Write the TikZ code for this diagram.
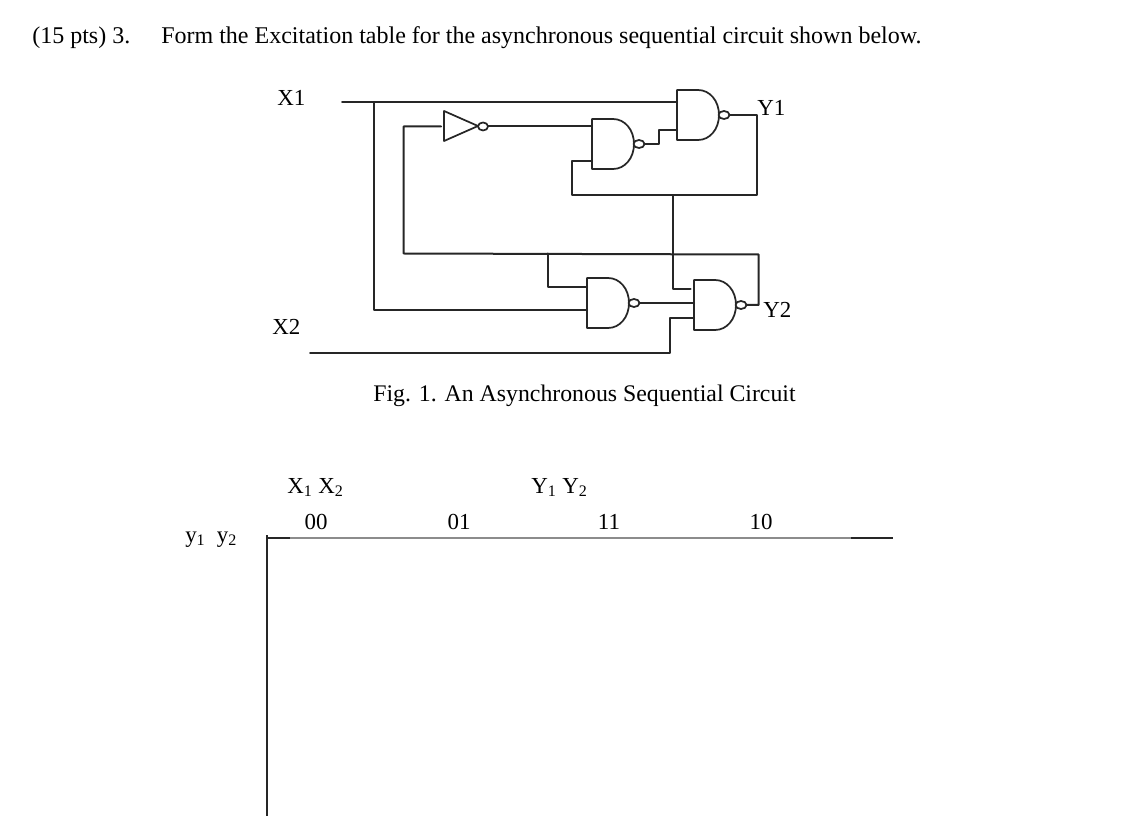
\documentclass[tikz,border=0pt]{standalone}
\usepackage{fontspec}
\setmainfont{Liberation Serif}
\usepackage{xcolor}
\definecolor{ink}{HTML}{262626}
\definecolor{rulegray}{HTML}{8C8C8C}
\tikzset{
  wire/.style={draw=ink, line width=1.5pt, line cap=round, line join=round},
  gateline/.style={draw=ink, line width=1.3pt, line join=round},
  lab/.style={text=black, font=\fontsize{17.2}{20}\selectfont, anchor=base west, inner sep=0pt},
  labc/.style={lab, anchor=base},
  labt/.style={lab, font=\fontsize{18}{20}\selectfont},
  labf/.style={lab, font=\fontsize{17.85}{20}\selectfont},
  nandgate/.pic={
    \draw[gateline] (21,0) -- (0,0) -- (0,50) -- (21,50)
      .. controls (33,50) and (42,39) .. (42,25)
      .. controls (42,11) and (33,0) .. (21,0);
    \draw[gateline,fill=white] (47,25) ellipse [x radius=5.5, y radius=4];
    \coordinate (-out) at (52.5,25);
  },
}
\begin{document}
\begin{tikzpicture}[x=0.75pt,y=-0.75pt]
  \useasboundingbox (0,0) rectangle (1135,816);

  % text
  \node[labt] (head) at (32,44) {(15 pts) 3.};
  \node[labt] (task) at (161,44) {Form the Excitation table for the asynchronous sequential circuit shown below.};
  \node[labf] (fig) at (373,402) {Fig. 1. An Asynchronous Sequential Circuit};
  \node[lab] (inA) at (277,106) {X1};
  \node[lab] (inB) at (272,335) {X2};
  \node[lab] (outA) at (757,116) {Y1};
  \node[lab] (outB) at (763,318) {Y2};

  % gates
  \pic (gA) at (677,90) {nandgate};
  \pic (gB) at (592,119) {nandgate};
  \pic (gC) at (587,278) {nandgate};
  \pic (gD) at (694,280) {nandgate};
  \draw[gateline] (444,111) -- (444,141) -- (478,126) -- cycle;
  \draw[gateline] (483,126.5) ellipse [x radius=5, y radius=4];
  \coordinate (invin) at (441,126.5);
  \coordinate (invout) at (488,126.5);

  % inputs
  \coordinate (xa) at (342,102.5);
  \coordinate (xb) at (310,353.5);
  \coordinate (xaj) at (373.5,102.5);
  \draw[wire] (xa) -- (677,102.5);
  \draw[wire] (xaj) |- (587,310.5);
  \draw[wire] (xb) -| (669.5,318.5) -- (694,318.5);

  % top pair
  \draw[wire] (invout) -- (592,126.5);
  \draw[wire] (gB-out) -| (658.5,130.5) -- (677,130.5);
  \draw[wire] (gA-out) -| (756.5,195.5) -- (571.5,195.5) |- (592,161.5);

  % bottom pair
  \coordinate (fbj) at (547.5,253.5);
  \draw[wire] (invin) -- (403.5,126.5) -- (403.5,253.5) -- (758.5,254.5) -- (758.5,305) -- (gD-out);
  \draw[wire] (fbj) |- (587,287.5);
  \draw[wire] (672.5,195.5) -- (672.5,289.5) -- (690.5,289.5);
  \draw[wire] (gC-out) -- (694,303);

  % table
  \draw[draw=rulegray,line width=1pt] (290,538) -- (851,538);
  \draw[draw=ink,line width=1pt] (267,538) -- (290,538);
  \draw[draw=ink,line width=1pt] (851,538) -- (893,538);
  \draw[draw=ink,line width=1.2pt] (267,535) -- (267,816);
  \node[lab] (xhead) at (287,493) {X\textsubscript{1} X\textsubscript{2}};
  \node[lab] (yhead) at (531,493) {Y\textsubscript{1} Y\textsubscript{2}};
  \node[lab] (shead) at (185,542) {y\textsubscript{1}\ \ y\textsubscript{2}};
  \foreach \name/\px/\val in {ca/316/00,cb/459/01,cc/609/11,cd/761/10}
    \node[labc] (\name) at (\px,529) {\val};
\end{tikzpicture}
\end{document}
